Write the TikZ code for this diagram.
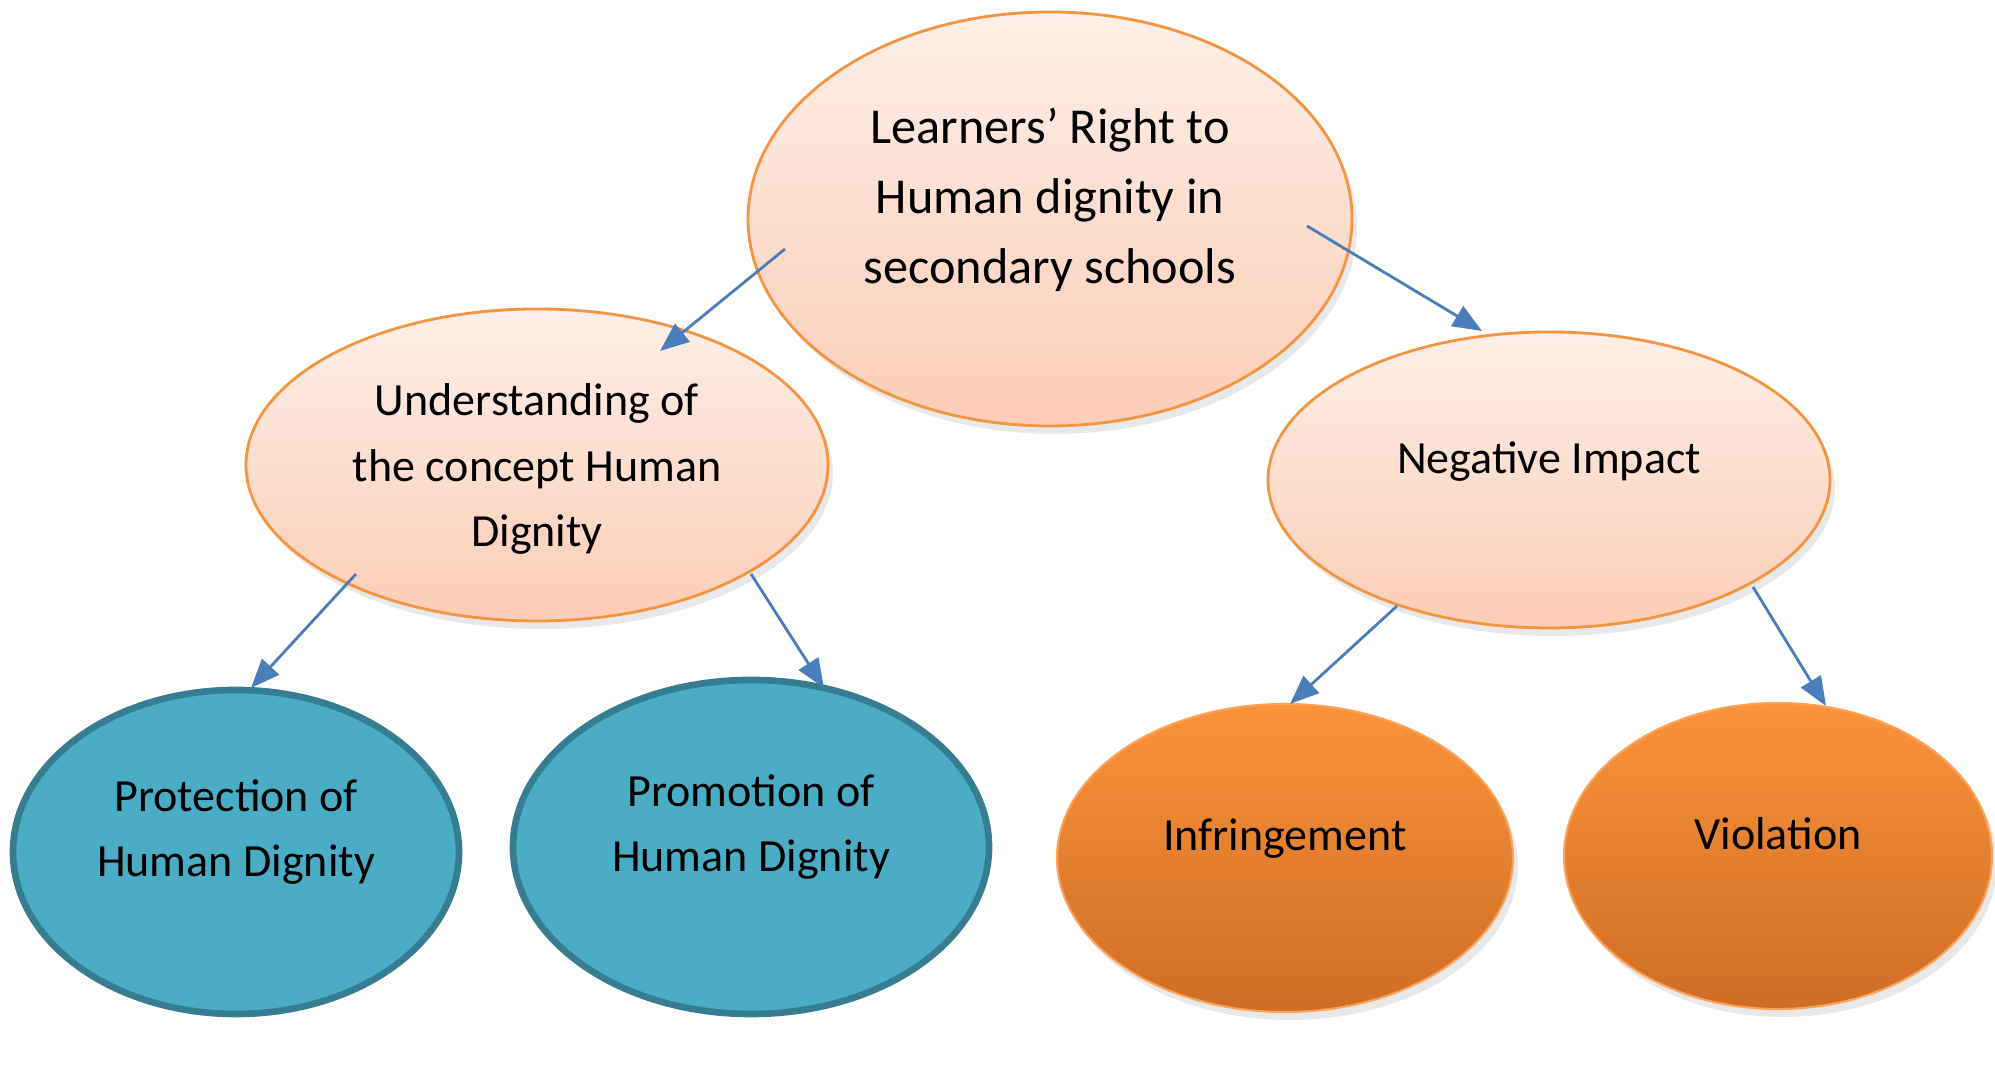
\documentclass[tikz,border=0pt]{standalone}
\usepackage{fontspec}
\setmainfont{Carlito}
\usepackage{tikz}
\usetikzlibrary{arrows.meta, calc, shapes.geometric, shadows}

\definecolor{peachtop}{HTML}{FDEFE8}
\definecolor{peachbot}{HTML}{FCCDB6}
\definecolor{peachline}{HTML}{F39440}
\definecolor{tealfill}{HTML}{4BACC6}
\definecolor{tealline}{HTML}{367D91}
\definecolor{orangetop}{HTML}{FA933A}
\definecolor{orangebot}{HTML}{CF6D25}
\definecolor{arrowblue}{HTML}{4A7EBB}

\begin{document}
\begin{tikzpicture}[>={Triangle[length=2.9mm,width=2.3mm]},
  peach/.style={ellipse, draw=peachline, line width=0.8pt, top color=peachtop, bottom color=peachbot,
    drop shadow={opacity=0.18, shadow xshift=0.5mm, shadow yshift=-0.8mm}},
  tealbox/.style={ellipse, draw=tealline, line width=1.9pt, fill=tealfill},
  orangebox/.style={ellipse, draw=orangetop!85!white, line width=0.6pt, top color=orangetop, bottom color=orangebot,
    drop shadow={opacity=0.18, shadow xshift=0.5mm, shadow yshift=-0.8mm}},
  txt/.style={align=center, font=\fontsize{13.1}{18.5}\selectfont, text=black},
  bigtxt/.style={align=center, font=\fontsize{14.3}{20}\selectfont, text=black},
  link/.style={->, draw=arrowblue, line width=0.8pt}]
\useasboundingbox (0,0) rectangle (19.95,10.75);
% top level
\node[peach, minimum width=6.04cm, minimum height=4.14cm] (learn) at (10.50,8.56) {};
\node[bigtxt] (learnT) at ([yshift=1.9mm]learn.center) {Learners’ Right to\\Human dignity in\\secondary schools};
% second level
\node[peach, minimum width=5.82cm, minimum height=3.12cm] (under) at (5.37,6.10) {};
\node[txt] (underT) at ([yshift=-0.4mm]under.center) {Understanding of\\the concept Human\\Dignity};
\node[peach, minimum width=5.62cm, minimum height=2.96cm] (neg) at (15.49,5.95) {};
\node[txt] (negT) at ([yshift=1.8mm]neg.center) {Negative Impact};
% third level
\node[tealbox, minimum width=4.46cm, minimum height=3.24cm] (prot) at (2.36,2.23) {};
\node[txt] (protT) at ([yshift=2.0mm]prot.center) {Protection of\\Human Dignity};
\node[tealbox, minimum width=4.76cm, minimum height=3.34cm] (prom) at (7.51,2.28) {};
\node[txt] (promT) at ([yshift=2.0mm]prom.center) {Promotion of\\Human Dignity};
\node[orangebox, minimum width=4.56cm, minimum height=3.08cm] (infr) at (12.85,2.17) {};
\node[txt] (infrT) at ([yshift=1.9mm]infr.center) {Infringement};
\node[orangebox, minimum width=4.28cm, minimum height=3.06cm] (viol) at (17.78,2.19) {};
\node[txt] (violT) at ([yshift=2.2mm]viol.center) {Violation};
% connectors
\draw[link] ([shift={(-2.65,-0.30)}]learn.center) -- ([shift={(1.23,1.14)}]under.center);
\draw[link] ([shift={(2.57,-0.07)}]learn.center) -- ([shift={(-0.67,1.49)}]neg.center);
\draw[link] ([shift={(-1.81,-1.09)}]under.center) -- ([shift={(0.15,1.64)}]prot.center);
\draw[link] ([shift={(2.14,-1.09)}]under.center) -- ([shift={(0.73,1.59)}]prom.center);
\draw[link] ([shift={(-1.52,-1.26)}]neg.center) -- ([shift={(0.05,1.54)}]infr.center);
\draw[link] ([shift={(2.04,-1.07)}]neg.center) -- ([shift={(0.48,1.50)}]viol.center);
\end{tikzpicture}
\end{document}
